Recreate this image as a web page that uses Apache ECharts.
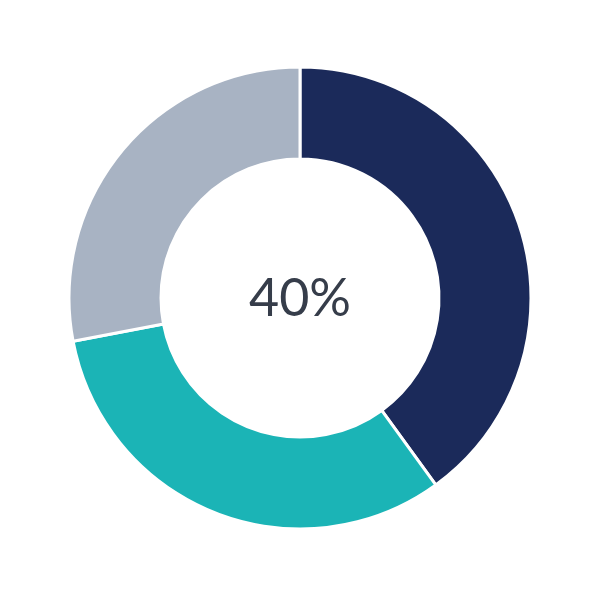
<!DOCTYPE html>
<html>
<head>
<meta charset="utf-8">
<script src="https://cdn.jsdelivr.net/npm/echarts@6/dist/echarts.min.js"></script>
<style>
  html, body { margin: 0; padding: 0; background: #fff; }
  #main { width: 600px; height: 599px; }
</style>
</head>
<body>
<div id="main"></div>
<script>
const names = ['A', 'B', 'C']
const values = [40, 32, 28]
const colors = ['#1b2a5a', '#1bb4b6', '#a8b3c3']
const centerLabel = '40%'

const chart = echarts.init(document.getElementById('main'))
chart.setOption({
  animation: false,
  title: {
    text: centerLabel,
    left: 'center',
    top: 268,
    textStyle: {
      fontFamily: 'Lato',
      fontWeight: 'normal',
      fontSize: 52,
      color: '#363d4a'
    }
  },
  series: [
    {
      type: 'pie',
      center: [300, 298],
      radius: [139, 231],
      startAngle: 90,
      clockwise: true,
      label: { show: false },
      labelLine: { show: false },
      itemStyle: { borderColor: '#fff', borderWidth: 3 },
      data: names.map((n, i) => ({
        name: n,
        value: values[i],
        itemStyle: { color: colors[i] }
      }))
    }
  ]
})
</script>
</body>
</html>
